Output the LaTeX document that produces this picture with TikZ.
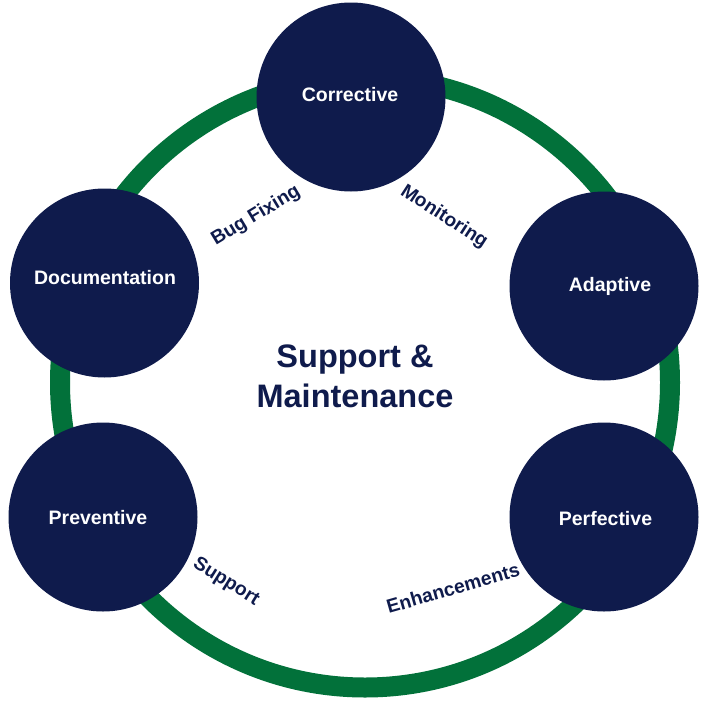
\documentclass[tikz,border=0pt]{standalone}
\usepackage{fontspec}
\setmainfont{Liberation Sans}
\definecolor{navy}{HTML}{0F1B4C}
\definecolor{ringgreen}{HTML}{02713A}
\begin{document}
\begin{tikzpicture}[x=1pt,y=-1pt,
  bubble/.style={circle,fill=navy,draw=none,minimum size=189pt,inner sep=0pt},
  lab/.style={text=white,font=\fontsize{19.5}{23}\selectfont\bfseries,anchor=base,inner sep=0pt},
  elab/.style={text=navy,font=\fontsize{19.3}{22}\selectfont\bfseries,inner sep=0pt},
  title/.style={text=navy,font=\fontsize{32.5}{40}\selectfont\bfseries,align=center,inner sep=0pt}]
\useasboundingbox (0,0) rectangle (720,720);
\coordinate (hub) at (365,382.5);
\draw[ringgreen,line width=20pt] (hub) circle[radius=305];
\node[bubble] (corr) at (351,97) {};
\node[bubble] (doc) at (104.5,283) {};
\node[bubble] (adap) at (604,286) {};
\node[bubble] (prev) at (103,517) {};
\node[bubble] (perf) at (604,517) {};
\node[lab] (tcorr) at (350,101) {Corrective};
\node[lab] (tdoc) at (105,284) {Documentation};
\node[lab] (tadap) at (610,291) {Adaptive};
\node[lab] (tprev) at (98,524) {Preventive};
\node[lab] (tperf) at (605.5,525) {Perfective};
\node[title] (main) at (355,376) {Support \&\\Maintenance};
\node[elab,rotate=31] (bug) at (256,216) {Bug Fixing};
\node[elab,rotate=-33] (mon) at (444,217) {Monitoring};
\node[elab,rotate=-32] (sup) at (226,582) {Support};
\node[elab,rotate=16] (enh) at (453,588) {Enhancements};
\end{tikzpicture}
\end{document}
